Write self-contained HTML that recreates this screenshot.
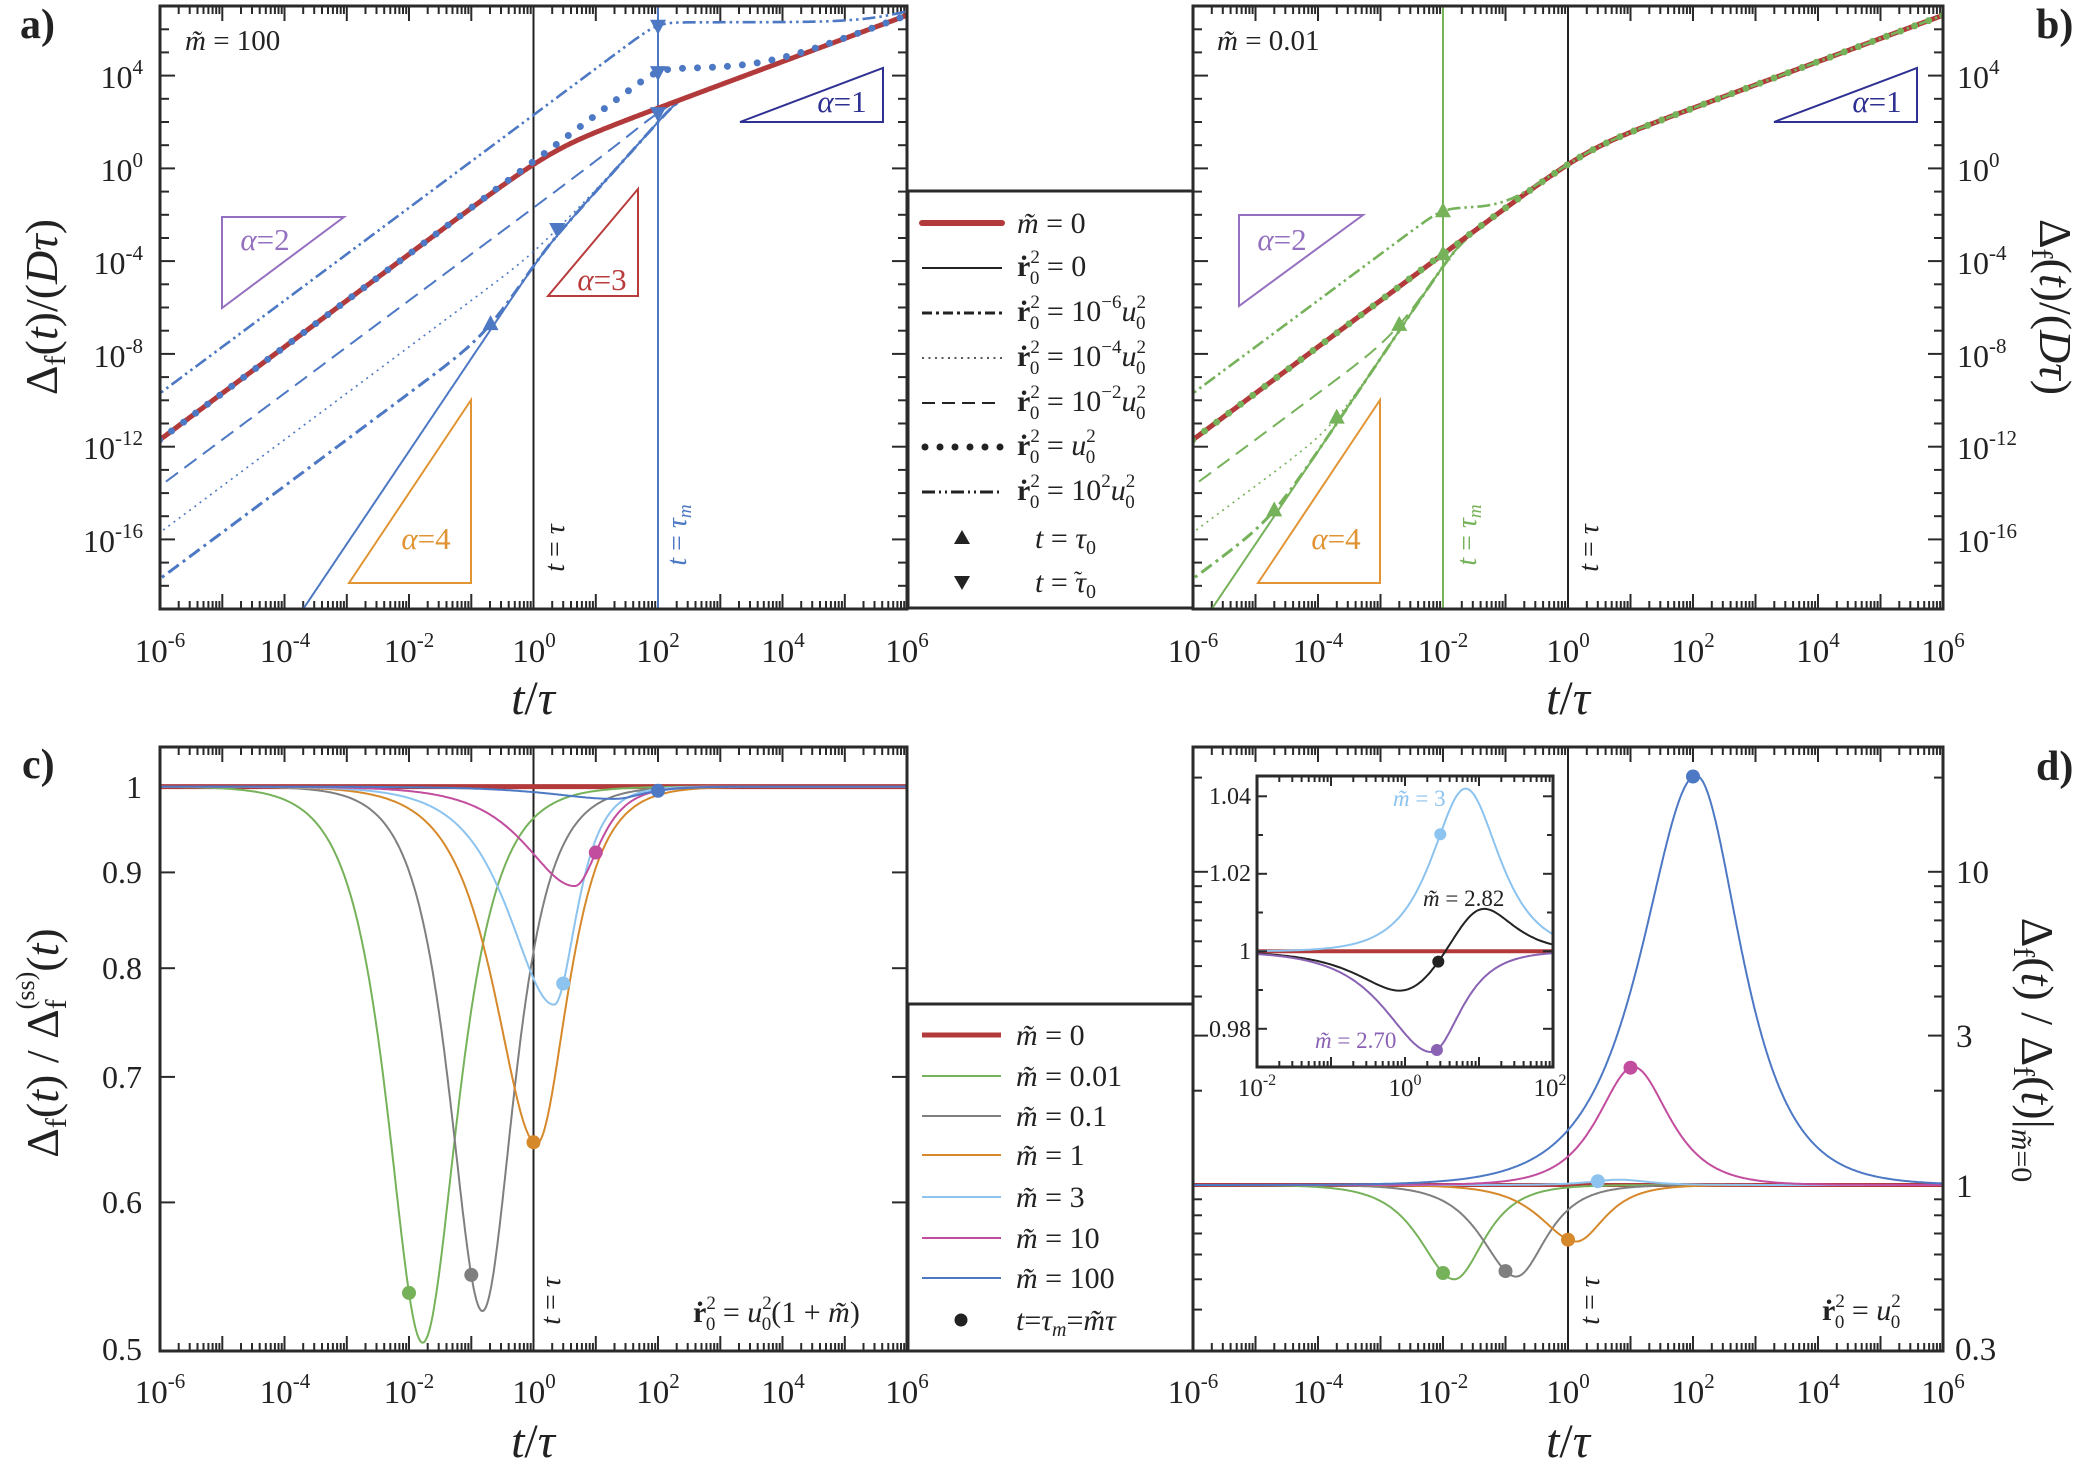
<!DOCTYPE html>
<html><head><meta charset="utf-8"><style>
body{margin:0;background:#fff}
svg{display:block}
text{font-family:"Liberation Serif",serif;fill:#222}
.it{font-style:italic}
</style></head><body>
<svg id="s" width="2083" height="1466" viewBox="0 0 2083 1466" xmlns="http://www.w3.org/2000/svg">
<defs>
<clipPath id="cA"><rect x="160" y="6" width="747" height="603"/></clipPath>
<clipPath id="cB"><rect x="1193" y="6" width="750" height="603"/></clipPath>
<clipPath id="cC"><rect x="160" y="747" width="747" height="604"/></clipPath>
<clipPath id="cD"><rect x="1193" y="747" width="750" height="604"/></clipPath>
<clipPath id="cI"><rect x="1257" y="776" width="296" height="291"/></clipPath>
</defs>
<rect x="0" y="0" width="2083" height="1466" fill="#fff"/>
<g id="dyn"></g>

<polygon points="222,217 344,217 222,308" fill="none" stroke="#9670c0" stroke-width="2"/>
<polygon points="638,189 638,296 548,296" fill="none" stroke="#b83c3c" stroke-width="2"/>
<polygon points="883,68 883,122 740,122" fill="none" stroke="#2e3192" stroke-width="2"/>
<polygon points="471,400 471,583 349,583" fill="none" stroke="#e09433" stroke-width="2"/>
<text x="265" y="250" font-size="31" text-anchor="middle" style="fill:#9670c0"><tspan class="it">α</tspan>=2</text>
<text x="602" y="290" font-size="31" text-anchor="middle" style="fill:#b83c3c"><tspan class="it">α</tspan>=3</text>
<text x="842" y="112" font-size="31" text-anchor="middle" style="fill:#2e3192"><tspan class="it">α</tspan>=1</text>
<text x="426" y="549" font-size="31" text-anchor="middle" style="fill:#e09433"><tspan class="it">α</tspan>=4</text>
<polygon points="1239,215 1363,215 1239,306" fill="none" stroke="#9670c0" stroke-width="2"/>
<polygon points="1917,68 1917,122 1774,122" fill="none" stroke="#2e3192" stroke-width="2"/>
<polygon points="1380,400 1380,583 1258,583" fill="none" stroke="#e09433" stroke-width="2"/>
<text x="1282" y="250" font-size="31" text-anchor="middle" style="fill:#9670c0"><tspan class="it">α</tspan>=2</text>
<text x="1877" y="112" font-size="31" text-anchor="middle" style="fill:#2e3192"><tspan class="it">α</tspan>=1</text>
<text x="1336" y="549" font-size="31" text-anchor="middle" style="fill:#e09433"><tspan class="it">α</tspan>=4</text>

<text x="185" y="50" font-size="29"><tspan class="it">m̃</tspan> = 100</text>
<text x="1217" y="50" font-size="29"><tspan class="it">m̃</tspan> = 0.01</text>

<text transform="translate(564,548) rotate(-90)" font-size="28" text-anchor="middle"><tspan class="it">t</tspan> = <tspan class="it">τ</tspan></text>
<text transform="translate(686,535) rotate(-90)" font-size="28" text-anchor="middle" style="fill:#4d78c4"><tspan class="it">t</tspan> = <tspan class="it">τ</tspan><tspan class="it" font-size="19" dy="5">m</tspan></text>
<text transform="translate(1476,535) rotate(-90)" font-size="28" text-anchor="middle" style="fill:#76b25a"><tspan class="it">t</tspan> = <tspan class="it">τ</tspan><tspan class="it" font-size="19" dy="5">m</tspan></text>
<text transform="translate(1598,548) rotate(-90)" font-size="28" text-anchor="middle"><tspan class="it">t</tspan> = <tspan class="it">τ</tspan></text>
<text transform="translate(560,1301) rotate(-90)" font-size="28" text-anchor="middle"><tspan class="it">t</tspan> = <tspan class="it">τ</tspan></text>
<text transform="translate(1599,1301) rotate(-90)" font-size="28" text-anchor="middle"><tspan class="it">t</tspan> = <tspan class="it">τ</tspan></text>

<text x="20" y="38" font-size="42" font-weight="bold">a)</text>
<text x="2036" y="38" font-size="42" font-weight="bold">b)</text>
<text x="22" y="778" font-size="42" font-weight="bold">c)</text>
<text x="2036" y="780" font-size="42" font-weight="bold">d)</text>

<g font-size="32">
<text x="143" y="88" text-anchor="end">10<tspan font-size="21" dy="-14">4</tspan></text>
<text x="143" y="181" text-anchor="end">10<tspan font-size="21" dy="-14">0</tspan></text>
<text x="143" y="274" text-anchor="end">10<tspan font-size="21" dy="-14">-4</tspan></text>
<text x="143" y="367" text-anchor="end">10<tspan font-size="21" dy="-14">-8</tspan></text>
<text x="143" y="459" text-anchor="end">10<tspan font-size="21" dy="-14">-12</tspan></text>
<text x="143" y="552" text-anchor="end">10<tspan font-size="21" dy="-14">-16</tspan></text>
<text x="1957" y="88">10<tspan font-size="21" dy="-14">4</tspan></text>
<text x="1957" y="181">10<tspan font-size="21" dy="-14">0</tspan></text>
<text x="1957" y="274">10<tspan font-size="21" dy="-14">-4</tspan></text>
<text x="1957" y="367">10<tspan font-size="21" dy="-14">-8</tspan></text>
<text x="1957" y="459">10<tspan font-size="21" dy="-14">-12</tspan></text>
<text x="1957" y="552">10<tspan font-size="21" dy="-14">-16</tspan></text>
</g>
<g font-size="33" text-anchor="middle">
<text x="160" y="662">10<tspan font-size="21" dy="-15">-6</tspan></text>
<text x="285" y="662">10<tspan font-size="21" dy="-15">-4</tspan></text>
<text x="409" y="662">10<tspan font-size="21" dy="-15">-2</tspan></text>
<text x="534" y="662">10<tspan font-size="21" dy="-15">0</tspan></text>
<text x="658" y="662">10<tspan font-size="21" dy="-15">2</tspan></text>
<text x="783" y="662">10<tspan font-size="21" dy="-15">4</tspan></text>
<text x="907" y="662">10<tspan font-size="21" dy="-15">6</tspan></text>
<text x="1193" y="662">10<tspan font-size="21" dy="-15">-6</tspan></text>
<text x="1318" y="662">10<tspan font-size="21" dy="-15">-4</tspan></text>
<text x="1443" y="662">10<tspan font-size="21" dy="-15">-2</tspan></text>
<text x="1568" y="662">10<tspan font-size="21" dy="-15">0</tspan></text>
<text x="1693" y="662">10<tspan font-size="21" dy="-15">2</tspan></text>
<text x="1818" y="662">10<tspan font-size="21" dy="-15">4</tspan></text>
<text x="1943" y="662">10<tspan font-size="21" dy="-15">6</tspan></text>
<text x="160" y="1403">10<tspan font-size="21" dy="-15">-6</tspan></text>
<text x="285" y="1403">10<tspan font-size="21" dy="-15">-4</tspan></text>
<text x="409" y="1403">10<tspan font-size="21" dy="-15">-2</tspan></text>
<text x="534" y="1403">10<tspan font-size="21" dy="-15">0</tspan></text>
<text x="658" y="1403">10<tspan font-size="21" dy="-15">2</tspan></text>
<text x="783" y="1403">10<tspan font-size="21" dy="-15">4</tspan></text>
<text x="907" y="1403">10<tspan font-size="21" dy="-15">6</tspan></text>
<text x="1193" y="1403">10<tspan font-size="21" dy="-15">-6</tspan></text>
<text x="1318" y="1403">10<tspan font-size="21" dy="-15">-4</tspan></text>
<text x="1443" y="1403">10<tspan font-size="21" dy="-15">-2</tspan></text>
<text x="1568" y="1403">10<tspan font-size="21" dy="-15">0</tspan></text>
<text x="1693" y="1403">10<tspan font-size="21" dy="-15">2</tspan></text>
<text x="1818" y="1403">10<tspan font-size="21" dy="-15">4</tspan></text>
<text x="1943" y="1403">10<tspan font-size="21" dy="-15">6</tspan></text>
</g>
<g font-size="48" text-anchor="middle">
<text x="533" y="714"><tspan class="it">t</tspan>/<tspan class="it">τ</tspan></text>
<text x="1568" y="714"><tspan class="it">t</tspan>/<tspan class="it">τ</tspan></text>
<text x="533" y="1457"><tspan class="it">t</tspan>/<tspan class="it">τ</tspan></text>
<text x="1568" y="1457"><tspan class="it">t</tspan>/<tspan class="it">τ</tspan></text>
</g>
<text transform="translate(57,307) rotate(-90)" font-size="46" text-anchor="middle">Δ<tspan font-size="30" dy="8">f</tspan><tspan dy="-8">(</tspan><tspan class="it">t</tspan>)/(<tspan class="it">Dτ</tspan>)</text>
<text transform="translate(2040,307) rotate(90)" font-size="46" text-anchor="middle">Δ<tspan font-size="30" dy="8">f</tspan><tspan dy="-8">(</tspan><tspan class="it">t</tspan>)/(<tspan class="it">Dτ</tspan>)</text>
<text transform="translate(58,1043) rotate(-90)" font-size="46" text-anchor="middle">Δ<tspan font-size="30" dy="8">f</tspan><tspan dy="-8">(</tspan><tspan class="it">t</tspan>) / Δ<tspan font-size="30" dy="8">f</tspan><tspan font-size="26" dx="-10" dy="-32">(ss)</tspan><tspan dy="24">(</tspan><tspan class="it">t</tspan>)</text>
<text transform="translate(2022,1050) rotate(90)" font-size="46" text-anchor="middle">Δ<tspan font-size="30" dy="8">f</tspan><tspan dy="-8">(</tspan><tspan class="it">t</tspan>) / Δ<tspan font-size="30" dy="8">f</tspan><tspan dy="-8">(</tspan><tspan class="it">t</tspan>)|<tspan font-size="30" dy="10" class="it">m̃</tspan><tspan font-size="30">=0</tspan></text>

<g font-size="32" text-anchor="end">
<text x="142" y="798">1</text>
<text x="142" y="883">0.9</text>
<text x="142" y="979">0.8</text>
<text x="142" y="1088">0.7</text>
<text x="142" y="1213">0.6</text>
<text x="142" y="1360">0.5</text>
</g>
<g font-size="33">
<text x="1956" y="883">10</text>
<text x="1956" y="1047">3</text>
<text x="1956" y="1197">1</text>
<text x="1955" y="1360">0.3</text>
</g>
<g font-size="24" text-anchor="end">
<text x="1251" y="804">1.04</text>
<text x="1251" y="881">1.02</text>
<text x="1251" y="959">1</text>
<text x="1251" y="1037">0.98</text>
</g>
<g font-size="25" text-anchor="middle">
<text x="1257" y="1096">10<tspan font-size="16" dy="-11">-2</tspan></text>
<text x="1405" y="1096">10<tspan font-size="16" dy="-11">0</tspan></text>
<text x="1550" y="1096">10<tspan font-size="16" dy="-11">2</tspan></text>
</g>
<text x="1393" y="806" font-size="23" style="fill:#8cc3ef"><tspan class="it">m̃</tspan> = 3</text>
<text x="1423" y="906" font-size="23"><tspan class="it">m̃</tspan> = 2.82</text>
<text x="1315" y="1048" font-size="23" style="fill:#8a62b4"><tspan class="it">m̃</tspan> = 2.70</text>

<text x="693" y="1322" font-size="30"><tspan font-weight="bold">ṙ</tspan><tspan font-size="19" dy="-13">2</tspan><tspan font-size="19" dx="-10" dy="21">0</tspan><tspan dy="-8"> = </tspan><tspan class="it">u</tspan><tspan font-size="19" dy="-13">2</tspan><tspan font-size="19" dx="-10" dy="21">0</tspan><tspan dy="-8">(1 + </tspan><tspan class="it">m̃</tspan>)</text>
<text x="1822" y="1320" font-size="30"><tspan font-weight="bold">ṙ</tspan><tspan font-size="19" dy="-13">2</tspan><tspan font-size="19" dx="-10" dy="21">0</tspan><tspan dy="-8"> = </tspan><tspan class="it">u</tspan><tspan font-size="19" dy="-13">2</tspan><tspan font-size="19" dx="-10" dy="21">0</tspan></text>

<rect x="908" y="191" width="285" height="417" fill="#fff" stroke="#2a2a2a" stroke-width="3"/>
<g stroke-linecap="butt" fill="none">
<line x1="922" y1="223" x2="1002" y2="223" stroke="#b23a3a" stroke-width="6" stroke-linecap="round"/>
<line x1="922" y1="268" x2="1002" y2="268" stroke="#222" stroke-width="2"/>
<line x1="922" y1="313" x2="1002" y2="313" stroke="#222" stroke-width="3" stroke-dasharray="10 4 3 4"/>
<line x1="922" y1="358" x2="1002" y2="358" stroke="#222" stroke-width="1.5" stroke-dasharray="2 4.5"/>
<line x1="922" y1="403" x2="1002" y2="403" stroke="#222" stroke-width="2" stroke-dasharray="13 7"/>
<line x1="925" y1="447" x2="1002" y2="447" stroke="#222" stroke-width="7" stroke-dasharray="0 15" stroke-linecap="round"/>
<line x1="922" y1="492" x2="1002" y2="492" stroke="#222" stroke-width="3" stroke-dasharray="13 4 2 4 2 4"/>
</g>
<polygon points="954,544 970,544 962,530" fill="#222"/>
<polygon points="954,576 970,576 962,590" fill="#222"/>
<g font-size="30">
<text x="1017" y="233"><tspan class="it">m̃</tspan> = 0</text>
<text x="1017" y="276"><tspan font-weight="bold">ṙ</tspan><tspan font-size="19" dy="-13">2</tspan><tspan font-size="19" dx="-10" dy="21">0</tspan><tspan dy="-8"> = 0</tspan></text>
<text x="1017" y="321"><tspan font-weight="bold">ṙ</tspan><tspan font-size="19" dy="-13">2</tspan><tspan font-size="19" dx="-10" dy="21">0</tspan><tspan dy="-8"> = 10</tspan><tspan font-size="19" dy="-13">−6</tspan><tspan class="it" dy="13">u</tspan><tspan font-size="19" dy="-13">2</tspan><tspan font-size="19" dx="-10" dy="21">0</tspan></text>
<text x="1017" y="366"><tspan font-weight="bold">ṙ</tspan><tspan font-size="19" dy="-13">2</tspan><tspan font-size="19" dx="-10" dy="21">0</tspan><tspan dy="-8"> = 10</tspan><tspan font-size="19" dy="-13">−4</tspan><tspan class="it" dy="13">u</tspan><tspan font-size="19" dy="-13">2</tspan><tspan font-size="19" dx="-10" dy="21">0</tspan></text>
<text x="1017" y="411"><tspan font-weight="bold">ṙ</tspan><tspan font-size="19" dy="-13">2</tspan><tspan font-size="19" dx="-10" dy="21">0</tspan><tspan dy="-8"> = 10</tspan><tspan font-size="19" dy="-13">−2</tspan><tspan class="it" dy="13">u</tspan><tspan font-size="19" dy="-13">2</tspan><tspan font-size="19" dx="-10" dy="21">0</tspan></text>
<text x="1017" y="455"><tspan font-weight="bold">ṙ</tspan><tspan font-size="19" dy="-13">2</tspan><tspan font-size="19" dx="-10" dy="21">0</tspan><tspan dy="-8"> = </tspan><tspan class="it">u</tspan><tspan font-size="19" dy="-13">2</tspan><tspan font-size="19" dx="-10" dy="21">0</tspan></text>
<text x="1017" y="500"><tspan font-weight="bold">ṙ</tspan><tspan font-size="19" dy="-13">2</tspan><tspan font-size="19" dx="-10" dy="21">0</tspan><tspan dy="-8"> = 10</tspan><tspan font-size="19" dy="-13">2</tspan><tspan class="it" dy="13">u</tspan><tspan font-size="19" dy="-13">2</tspan><tspan font-size="19" dx="-10" dy="21">0</tspan></text>
<text x="1035" y="548"><tspan class="it">t</tspan> = <tspan class="it">τ</tspan><tspan font-size="20" dy="6">0</tspan></text>
<text x="1035" y="592"><tspan class="it">t</tspan> = <tspan class="it">τ</tspan><tspan font-size="20" dy="6">0</tspan></text>
<text x="1074" y="588" font-size="24">˜</text>
</g>

<rect x="908" y="1004" width="285" height="347" fill="#fff" stroke="#2a2a2a" stroke-width="3"/>
<g fill="none">
<line x1="922" y1="1035" x2="1001" y2="1035" stroke="#b23a3a" stroke-width="5"/>
<line x1="922" y1="1076" x2="1001" y2="1076" stroke="#76b25a" stroke-width="2"/>
<line x1="922" y1="1116" x2="1001" y2="1116" stroke="#7f7f7f" stroke-width="2"/>
<line x1="922" y1="1155" x2="1001" y2="1155" stroke="#d6892a" stroke-width="2"/>
<line x1="922" y1="1197" x2="1001" y2="1197" stroke="#8cc3ef" stroke-width="2"/>
<line x1="922" y1="1238" x2="1001" y2="1238" stroke="#c24d9e" stroke-width="2"/>
<line x1="922" y1="1278" x2="1001" y2="1278" stroke="#4d78c4" stroke-width="2"/>
</g>
<circle cx="961" cy="1320" r="6.5" fill="#222"/>
<g font-size="30">
<text x="1016" y="1045"><tspan class="it">m̃</tspan> = 0</text>
<text x="1016" y="1086"><tspan class="it">m̃</tspan> = 0.01</text>
<text x="1016" y="1126"><tspan class="it">m̃</tspan> = 0.1</text>
<text x="1016" y="1165"><tspan class="it">m̃</tspan> = 1</text>
<text x="1016" y="1207"><tspan class="it">m̃</tspan> = 3</text>
<text x="1016" y="1248"><tspan class="it">m̃</tspan> = 10</text>
<text x="1016" y="1288"><tspan class="it">m̃</tspan> = 100</text>
<text x="1016" y="1330"><tspan class="it">t</tspan>=<tspan class="it">τ</tspan><tspan class="it" font-size="20" dy="6">m</tspan><tspan dy="-6">=</tspan><tspan class="it">m̃τ</tspan></text>
</g>
<g fill="none" stroke="#2a2a2a" stroke-width="3">
<rect x="160" y="6" width="747" height="603"/>
<rect x="1193" y="6" width="750" height="603"/>
<rect x="160" y="747" width="747" height="604"/>
<rect x="1193" y="747" width="750" height="604"/>
</g>
</svg>
<script>
(function(){
var h='';
function P(x0,x1,y0,y1){return {x0:x0,x1:x1,y0:y0,y1:y1};}
var A=P(160,907,6,609),B=P(1193,1943,6,609),C=P(160,907,747,1351),D=P(1193,1943,747,1351);
function px(p,u){return p.x0+(u+6)*(p.x1-p.x0)/12;}
function yab(l){return 609-(l+19)*23.19;}
function yc(v){return 786.6-Math.log(v)*814;}
function yd(lnv){return 1185-lnv*136;}
function xi(u){return 1257+(u+2)*74;}
function yi(v){return 951.3-(v-1)/0.02*77.5;}
function line(x1,y1,x2,y2,st){h+='<line x1="'+x1.toFixed(1)+'" y1="'+y1.toFixed(1)+'" x2="'+x2.toFixed(1)+'" y2="'+y2.toFixed(1)+'" '+st+'/>';}
var ts='stroke="#2a2a2a" stroke-width="2"';
function xticks(p){
 for(var d=-6;d<6;d++){for(var k=1;k<10;k++){var u=d+Math.log10(k);var x=px(p,u);var L=k==1?15:8;
  line(x,p.y1,x,p.y1-L,ts);line(x,p.y0,x,p.y0+L,ts);}}
}
[A,B,C,D].forEach(xticks);
[A,B].forEach(function(p){for(var l=-18;l<=6;l++){var y=yab(l);var L=(l%4==0)?15:9;line(p.x0,y,p.x0+L,y,ts);line(p.x1,y,p.x1-L,y,ts);}});
[0.6,0.7,0.8,0.9,1].forEach(function(v){var y=yc(v);line(C.x0,y,C.x0+15,y,ts);line(C.x1,y,C.x1-15,y,ts);});
[0.4,0.5,0.6,0.7,0.8,0.9,1,2,3,4,5,6,7,8,9,10,20].forEach(function(v){var y=yd(Math.log(v));var L=(v==1||v==3||v==10)?15:9;line(D.x0,y,D.x0+L,y,ts);line(D.x1,y,D.x1-L,y,ts);});
function path(pts,st,clip){var s='';var first=true;for(var i=0;i<pts.length;i++){var q=pts[i];if(!isFinite(q[1])){first=true;continue;}s+=(first?'M':'L')+q[0].toFixed(1)+' '+q[1].toFixed(1);first=false;}
 h+='<path d="'+s+'" fill="none" '+st+(clip?' clip-path="url(#'+clip+')"':'')+'/>';}
function sminL(ls,s){var sum=0;for(var i=0;i<ls.length;i++)sum+=Math.pow(10,-s*ls[i]);return -Math.log10(sum)/s;}
function red(t){return t<1e-3?2*t*t*(1-t/3):4*(t-1+Math.exp(-t));}
function Sl(t,c4,c3){var lt=Math.log10(t);return sminL([c4+4*lt,c3+3*lt,Math.log10(red(t))],3);}
function curveL(t,Aa,tm,c4,c3){var s=Sl(t,c4,c3);if(Aa<=0)return s;var lt=Math.log10(t);var la=Math.log10(Aa);
 var b=sminL([la+2*lt,la+2*Math.log10(tm)],2);return Math.log10(Math.pow(10,s)+Math.pow(10,b));}
function gen(p,f){var pts=[];for(var u=-6.2;u<=6.2001;u+=0.02){pts.push([px(p,u),f(u)]);}return pts;}
var BL='#4d78c4',GR='#76b25a',RD='#b23a3a';
var styles=[[0,'stroke-width="2"'],[2e-6,'stroke-width="3" stroke-dasharray="13 5 3 5"'],[2e-4,'stroke-width="1.6" stroke-dasharray="2 4.5"'],[2e-2,'stroke-width="2" stroke-dasharray="15 8"']];
function panel(p,clip,col,tm,c4,c3){
 styles.forEach(function(s){path(gen(p,function(u){return yab(curveL(Math.pow(10,u),s[0],tm,c4,c3));}),'stroke="'+col+'" '+s[1],clip);});
 path(gen(p,function(u){return yab(Math.log10(red(Math.pow(10,u))));}),'stroke="'+RD+'" stroke-width="5"',clip);
 path(gen(p,function(u){return yab(curveL(Math.pow(10,u),2,tm,c4,c3));}),'stroke="'+col+'" stroke-width="7" stroke-linecap="round" stroke-dasharray="0 15"',clip);
 path(gen(p,function(u){return yab(curveL(Math.pow(10,u),200,tm,c4,c3));}),'stroke="'+col+'" stroke-width="2.6" stroke-dasharray="13 4 2.5 4 2.5 4"',clip);
}
line(px(A,0),6,px(A,0),609,'stroke="#222" stroke-width="2"');
line(px(A,2),6,px(A,2),609,'stroke="'+BL+'" stroke-width="2"');
line(px(B,-2),6,px(B,-2),609,'stroke="'+GR+'" stroke-width="2"');
line(px(B,0),6,px(B,0),609,'stroke="#222" stroke-width="2"');
line(px(C,0),747,px(C,0),1351,'stroke="#222" stroke-width="2"');
line(px(D,0),747,px(D,0),1351,'stroke="#222" stroke-width="2"');
panel(A,'cA',BL,100,-4.2,-4.0);
panel(B,'cB',GR,0.01,3.8,2.0);
function tri(x,y,up,col){if(up)h+='<polygon points="'+(x-8)+','+(y+6)+' '+(x+8)+','+(y+6)+' '+x+','+(y-9)+'" fill="'+col+'"/>';
 else h+='<polygon points="'+(x-8)+','+(y-6)+' '+(x+8)+','+(y-6)+' '+x+','+(y+9)+'" fill="'+col+'"/>';}
function mk(p,u,Aa,tm,c4,c3,up,col){tri(px(p,u),yab(curveL(Math.pow(10,u),Aa,tm,c4,c3)),up,col);}
mk(A,-0.69,2e-6,100,-4.2,-4,true,BL);mk(A,0.38,2e-4,100,-4.2,-4,false,BL);
mk(A,2,2e-2,100,-4.2,-4,false,BL);mk(A,2,2,100,-4.2,-4,false,BL);mk(A,2,200,100,-4.2,-4,false,BL);
mk(B,-2,200,0.01,3.8,2,true,GR);mk(B,-2,2,0.01,3.8,2,true,GR);mk(B,-2.7,2e-2,0.01,3.8,2,true,GR);
mk(B,-3.7,2e-4,0.01,3.8,2,true,GR);mk(B,-4.7,2e-6,0.01,3.8,2,true,GR);
function dip(u,a,u0,wl,wr){var w=u<u0?wl:wr;return a/Math.cosh((u-u0)/w);}
var cc=[['#76b25a',Math.log(.505),-1.78,.5,.5,-2],['#7f7f7f',Math.log(.525),-0.82,.47,.45,-1],['#d6892a',Math.log(.645),0.05,.59,.44,0],
 ['#8cc3ef',Math.log(.765),0.33,.64,.32,0.477],['#c24d9e',Math.log(.885),0.66,.7,.35,1],['#4d78c4',Math.log(.985),1.3,.9,.4,2]];
path(gen(C,function(u){return yc(1);}),'stroke="'+RD+'" stroke-width="5"','cC');
cc.forEach(function(c){path(gen(C,function(u){return 786.6-dip(u,c[1],c[2],c[3],c[4])*814;}),'stroke="'+c[0]+'" stroke-width="2"','cC');});
cc.forEach(function(c){h+='<circle cx="'+px(C,c[5]).toFixed(1)+'" cy="'+(786.6-dip(c[5],c[1],c[2],c[3],c[4])*814).toFixed(1)+'" r="7" fill="'+c[0]+'"/>';});
var dd=[['#76b25a',Math.log(.50),-1.82,.48,.42,-2],['#7f7f7f',Math.log(.51),-0.83,.48,.42,-1],['#d6892a',Math.log(.66),0.13,.5,.4,0],
 ['#8cc3ef',Math.log(1.04),0.82,.4,.4,0.477],['#c24d9e',0.867,1.05,.5,.5,1],['#4d78c4',3.01,2.05,.76,.63,2]];
path(gen(D,function(u){return yd(0);}),'stroke="'+RD+'" stroke-width="4"','cD');
dd.forEach(function(c){path(gen(D,function(u){return yd(dip(u,c[1],c[2],c[3],c[4]));}),'stroke="'+c[0]+'" stroke-width="2"','cD');});
dd.forEach(function(c){h+='<circle cx="'+px(D,c[5]).toFixed(1)+'" cy="'+yd(dip(c[5],c[1],c[2],c[3],c[4])).toFixed(1)+'" r="7" fill="'+c[0]+'"/>';});
h+='<rect x="1257" y="776" width="296" height="291" fill="#fff"/>';
function gi(f){var pts=[];for(var u=-2;u<=2.0001;u+=0.02)pts.push([xi(u),yi(f(u))]);return pts;}
function fb(u){return 1-0.0125/Math.cosh((u-0.05)/0.55)+0.015/Math.cosh((u-1.0)/0.4);}
function fl(u){return 1+0.042/Math.cosh((u-0.82)/0.4);}
function fp(u){return 1+dip(u,-0.026,0.36,.55,.35);}
path(gi(function(){return 1;}),'stroke="'+RD+'" stroke-width="4"','cI');
path(gi(fl),'stroke="#8cc3ef" stroke-width="2"','cI');
path(gi(fb),'stroke="#222" stroke-width="2"','cI');
path(gi(fp),'stroke="#8a62b4" stroke-width="2"','cI');
h+='<circle cx="'+xi(0.477)+'" cy="'+yi(fl(0.477))+'" r="6" fill="#8cc3ef"/>';
h+='<circle cx="'+xi(0.45)+'" cy="'+yi(fb(0.45))+'" r="6" fill="#222"/>';
h+='<circle cx="'+xi(0.431)+'" cy="'+yi(fp(0.431))+'" r="6" fill="#8a62b4"/>';
for(var d=-2;d<2;d++){for(var k=1;k<10;k++){var x=xi(d+Math.log10(k));var L=k==1?10:6;line(x,1067,x,1067-L,ts);line(x,776,x,776+L,ts);}}
for(var j=0;j<=7;j++){var v=0.97+j*0.01;var y=yi(v);var L=(j%2==1)?10:6;line(1257,y,1257+L,y,ts);line(1553,y,1553-L,y,ts);}
h+='<rect x="1257" y="776" width="296" height="291" fill="none" stroke="#2a2a2a" stroke-width="3"/>';
document.getElementById('dyn').innerHTML=h;
})();
</script>
</body></html>
